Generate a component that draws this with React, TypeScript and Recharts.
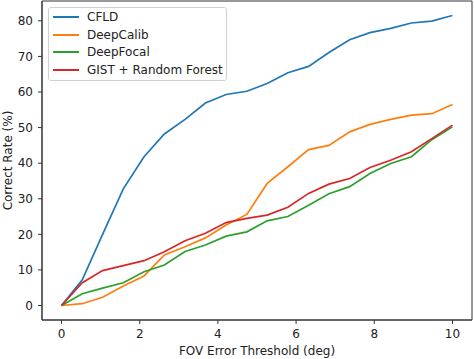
import { Line, LineChart, ReferenceArea, XAxis, YAxis } from 'recharts'

const thresholds = [
  0, 0.53, 1.05, 1.58, 2.11, 2.63, 3.16, 3.68, 4.21, 4.74, 5.26, 5.79, 6.32, 6.84, 7.37, 7.89,
  8.42, 8.95, 9.47, 10
]

const cfld = [
  0, 7.2, 20, 32.8, 41.8, 48.2, 52.3, 56.9, 59.3, 60.2, 62.4, 65.4, 67.2, 71.1, 74.7, 76.7, 77.9,
  79.4, 79.9, 81.5
]
const deepCalib = [
  0, 0.5, 2.3, 5.5, 8.3, 14.2, 16.5, 19, 22.6, 25.6, 34.3, 39, 43.8, 45, 48.8, 50.9, 52.3, 53.5,
  53.9, 56.5
]
const deepFocal = [
  0, 3.3, 4.9, 6.4, 9.5, 11.4, 15.2, 17, 19.5, 20.7, 23.8, 25, 28.2, 31.4, 33.4, 37.1, 39.9, 41.8,
  46.6, 50.2
]
const gistRf = [
  0, 6.4, 9.8, 11.2, 12.6, 15.1, 18.2, 20.3, 23.3, 24.5, 25.4, 27.6, 31.5, 34.1, 35.7, 38.8, 40.8,
  43.2, 46.9, 50.7
]

const xTicks = [0, 2, 4, 6, 8, 10]
const yTicks = [0, 10, 20, 30, 40, 50, 60, 70, 80]

const series = [
  { key: 'cfld', name: 'CFLD', color: '#1f77b4', values: cfld },
  { key: 'deepCalib', name: 'DeepCalib', color: '#ff7f0e', values: deepCalib },
  { key: 'deepFocal', name: 'DeepFocal', color: '#2ca02c', values: deepFocal },
  { key: 'gistRf', name: 'GIST + Random Forest', color: '#d62728', values: gistRf }
]

const data = thresholds.map((t, i) => {
  const row: Record<string, number> = { t }
  series.forEach((s) => {
    row[s.key] = s.values[i]
  })
  return row
})

const X_DOMAIN: [number, number] = [-0.5, 10.5]
const Y_DOMAIN: [number, number] = [-4.075, 85.575]
const font = '"DejaVu Sans", sans-serif'
const ink = '#222'
const frame = '#333'
const fs = 12

export default function App() {
  return (
    <div style={{ position: 'absolute', left: 0, top: 0, width: 474, height: 359, fontFamily: font }}>
      <LineChart width={474} height={359} data={data} margin={{ top: 1, right: 2, bottom: 0, left: 0 }}>
        <XAxis
          dataKey="t"
          type="number"
          domain={X_DOMAIN}
          ticks={xTicks}
          allowDataOverflow
          height={39}
          tickSize={4}
          tickMargin={5}
          stroke={frame}
          tick={{ fill: ink, fontSize: fs, fontFamily: font }}
          label={{
            content: (props: any) => {
              const vb = props.viewBox
              return (
                <text
                  x={vb.x + vb.width / 2}
                  y={351}
                  textAnchor="middle"
                  dominantBaseline="central"
                  fill={ink}
                  fontSize={fs}
                  fontFamily={font}
                >
                  FOV Error Threshold (deg)
                </text>
              )
            }
          }}
        />
        <YAxis
          type="number"
          domain={Y_DOMAIN}
          ticks={yTicks}
          allowDataOverflow
          width={42}
          tickSize={4}
          tickMargin={5}
          stroke={frame}
          tick={{ fill: ink, fontSize: fs, fontFamily: font }}
          label={{
            content: (props: any) => {
              const vb = props.viewBox
              const cx = 8
              const cy = vb.y + vb.height / 2
              return (
                <text
                  x={cx}
                  y={cy}
                  transform={`rotate(-90 ${cx} ${cy})`}
                  textAnchor="middle"
                  dominantBaseline="central"
                  fill={ink}
                  fontSize={fs}
                  fontFamily={font}
                >
                  Correct Rate (%)
                </text>
              )
            }
          }}
        />
        <ReferenceArea
          x1={X_DOMAIN[0]}
          x2={X_DOMAIN[1]}
          y1={Y_DOMAIN[0]}
          y2={Y_DOMAIN[1]}
          fill="none"
          stroke={frame}
          strokeWidth={1}
        />
        {series.map((s) => (
          <Line
            key={s.key}
            dataKey={s.key}
            name={s.name}
            type="linear"
            stroke={s.color}
            strokeWidth={1.7}
            dot={false}
            isAnimationActive={false}
          />
        ))}
      </LineChart>
      <div
        style={{
          position: 'absolute',
          left: 48,
          top: 7,
          width: 179,
          height: 74,
          boxSizing: 'border-box',
          border: '1px solid #d0d0d0',
          borderRadius: 3,
          background: 'rgba(255,255,255,0.8)'
        }}
      >
        {series.map((s, i) => (
          <div
            key={s.key}
            style={{
              position: 'absolute',
              left: 4,
              top: 9 + i * 17.7 - 8,
              height: 16,
              display: 'flex',
              alignItems: 'center',
              whiteSpace: 'nowrap'
            }}
          >
            <span style={{ display: 'inline-block', width: 26, height: 2, background: s.color }} />
            <span style={{ marginLeft: 8, fontSize: fs, color: ink, fontFamily: font }}>{s.name}</span>
          </div>
        ))}
      </div>
    </div>
  )
}
